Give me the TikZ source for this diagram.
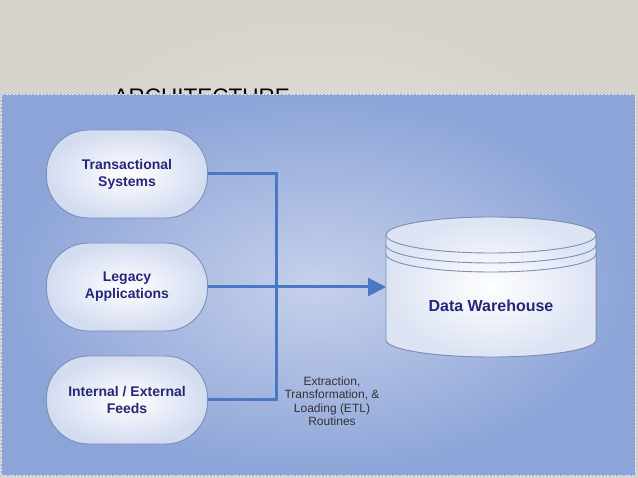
\documentclass[tikz,border=0pt]{standalone}
\usepackage{fontspec}
\setmainfont{Liberation Sans}
\usepackage{xcolor}
\usetikzlibrary{positioning, arrows.meta}

\definecolor{slidegrey}{HTML}{D6D3CD}
\definecolor{slidelight}{HTML}{E6E3DE}
\definecolor{panelout}{HTML}{8CA4D8}
\definecolor{panelin}{HTML}{C6D1EB}
\definecolor{feedblue}{HTML}{4A78C2}
\definecolor{rimblue}{HTML}{7E8EB8}
\definecolor{podfill}{HTML}{D3DCF0}
\definecolor{navytext}{HTML}{26267A}

\tikzset{
  source/.style = {rectangle, rounded corners=42pt,
    draw=rimblue, line width=0.9pt,
    inner color=white, outer color=podfill,
    minimum width=161pt, minimum height=88pt, align=center,
    text=navytext, font=\bfseries\fontsize{14}{17}\selectfont},
  feed/.style = {draw=feedblue, line width=3pt},
  rim/.style = {draw=rimblue, line width=0.9pt}
}

\begin{document}
\begin{tikzpicture} [x=1pt, y=-1pt, node distance = 113pt, on grid, auto]
        \useasboundingbox (0,0) rectangle (638,478);

        % slide background and title
        \shade [inner color=slidelight, outer color=slidegrey] (0,0) rectangle (638,478);
        \node (title) [anchor=base west, font=\fontsize{22.5}{26}\selectfont] at (110,105) {ARCHITECTURE};

        % blue panel
        \shade [inner color=panelin, outer color=panelout] (1,95) rectangle (635,476);
        \draw [white!75!panelout, line width=1pt, dash pattern=on 2pt off 1.5pt] (1,95) rectangle (635,476);

        % sources
        \node (src1) [source] at (127,174) {Transactional\\Systems};
        \node (src2) [source, below = of src1] {Legacy\\Applications};
        \node (src3) [source, below = of src2] {Internal / External\\Feeds};

        % data warehouse cylinder
        \fill [inner color=white, outer color=podfill!80] (386,235) -- (386,340)
          arc [start angle=180, end angle=0, x radius=105, y radius=17] -- (596,235)
          arc [start angle=0, end angle=-180, x radius=105, y radius=18] -- cycle;
        \draw [rim] (386,235) -- (386,340)
          arc [start angle=180, end angle=0, x radius=105, y radius=17] -- (596,235);
        \draw [rim] (491,235) ellipse [x radius=105, y radius=18];
        \draw [rim] (386,245) arc [start angle=180, end angle=0, x radius=105, y radius=18];
        \draw [rim] (386,254) arc [start angle=180, end angle=0, x radius=105, y radius=18];
        \node (dw) [text=navytext, font=\bfseries\fontsize{16}{19}\selectfont] at (491,306) {Data Warehouse};
        \coordinate (dwin) at (386,287);

        % ETL connectors
        \coordinate (bus) at (276,287);
        \draw [feed] (src1.east) -| (bus);
        \draw [feed] (src3.east) -| (bus);
        \draw [feed, -{Triangle[length=18pt, width=18pt]}] (src2.east) -- (dwin);

        \node (etl) [align=center, text=black!80, font=\fontsize{12}{13.5}\selectfont] at (332,401)
          {Extraction,\\Transformation, \&\\Loading (ETL)\\Routines};
\end{tikzpicture}
\end{document}
